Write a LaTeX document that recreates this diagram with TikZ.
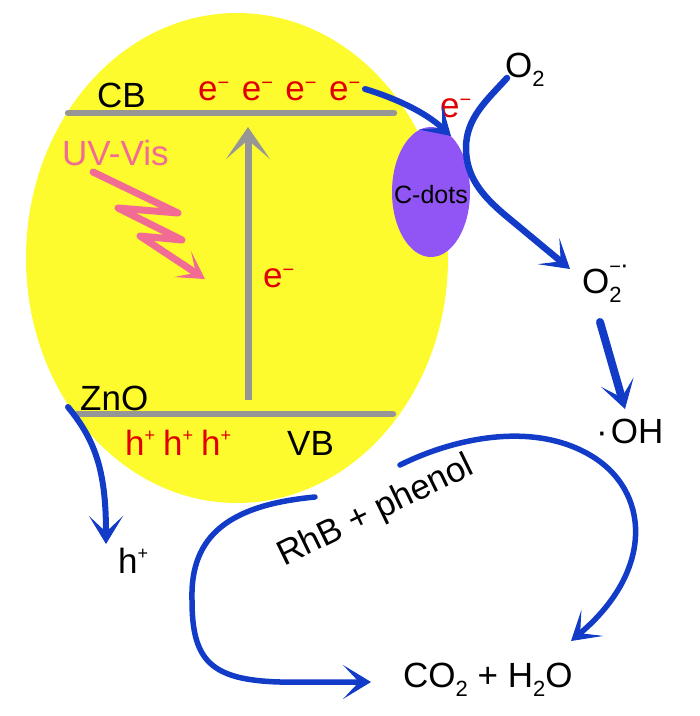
\documentclass[tikz,border=0pt]{standalone}
\usepackage{fontspec}
\setmainfont{Liberation Sans}
\usetikzlibrary{arrows.meta}
\definecolor{yel}{RGB}{253,251,45}
\definecolor{purp}{RGB}{145,85,245}
\definecolor{blueC}{RGB}{18,60,200}
\definecolor{pinkC}{RGB}{242,107,148}
\definecolor{redC}{RGB}{225,0,0}
\definecolor{greyC}{RGB}{150,150,150}
\newcommand\myminus{\raisebox{11pt}{\fontsize{20}{20}\selectfont −}}
\newcommand\myplus{\raisebox{14pt}{\fontsize{18}{18}\selectfont +}}
\newcommand\mysub[1]{\raisebox{-9pt}{\fontsize{22}{22}\selectfont #1}}
\begin{document}
\begin{tikzpicture}[x=1pt,y=-1pt,
  lbl/.style={font=\fontsize{35}{40}\selectfont, inner sep=0pt, anchor=base west},
  greyline/.style={draw=greyC, line width=6.5pt, line cap=round},
  barrow/.style={draw=blueC, line width=6pt, line cap=round,
    -{Stealth[length=28pt,width=34pt,inset=16pt,line width=1pt]}},
  parrow/.style={draw=pinkC, line width=7pt, line cap=round, line join=round,
    -{Stealth[length=27pt,width=31pt,inset=16pt,line width=1pt]}},
  garrow/.style={draw=greyC, line width=7pt,
    -{Stealth[length=32pt,width=44pt,inset=19pt,line width=1pt]}}]
\useasboundingbox (0,0) rectangle (700,716);
% ZnO particle
\fill[yel] (237,258) ellipse [x radius=211, y radius=245];
\coordinate (particle) at (237,258);
% C-dots
\fill[purp] (431,192) ellipse [x radius=39, y radius=65];
\node[font=\fontsize{25}{27}\selectfont, inner sep=0pt] (cdots) at (431,195) {C-dots};
% band lines
\coordinate (cbL) at (68,113);
\coordinate (cbR) at (394,113);
\coordinate (vbL) at (77,414);
\coordinate (vbR) at (393,414);
\draw[greyline] (cbL) -- (cbR);
\draw[greyline] (vbL) -- (vbR);
% excitation arrow
\coordinate (exB) at (248,400);
\coordinate (exT) at (248,127);
\draw[garrow] (exB) -- (exT);
% labels
\node[lbl] (cb) at (97,107) {CB};
\node[lbl, text=redC] (ecb) at (198,100) {e\myminus\hspace{12.5pt}e\myminus\hspace{12.5pt}e\myminus\hspace{12.5pt}e\myminus};
\node[lbl, text=pinkC] (uv) at (62,165) {UV-Vis};
\node[lbl, text=redC] (emid) at (263,287) {e\myminus};
\node[lbl] (zno) at (80,410) {ZnO};
\node[lbl, text=redC] (hhh) at (125,455) {h\myplus\hspace{8pt}h\myplus\hspace{8pt}h\myplus};
\node[lbl] (vb) at (287,455) {VB};
\node[lbl] (hplus) at (118,573) {h\myplus};
\node[lbl, text=redC] (ec) at (440,117) {e\myminus};
\node[lbl] (o2) at (505,77) {O\mysub{2}};
\node[lbl] (o2m) at (582,293) {O\rlap{\raisebox{20pt}{\fontsize{20}{20}\selectfont −\kern-1pt{\fontsize{26}{26}\selectfont ·}}}\mysub{2}};
\node[lbl] (oh) at (596,443) {·\kern3pt OH};
\node[lbl] (co2) at (403,687) {CO\mysub{2} + H\mysub{2}O};
\node[font=\fontsize{35}{40}\selectfont, inner sep=0pt, rotate=26] (rhb) at (376,512) {RhB + phenol};
% light
\coordinate (l0) at (93,172);
\coordinate (l1) at (178,213);
\coordinate (l2) at (118,208);
\coordinate (l3) at (182,240);
\coordinate (l4) at (140,236);
\coordinate (l5) at (205,279);
\draw[parrow] (l0) -- (l1) -- (l2) -- (l3) -- (l4) -- (l5);
% electron transfer to C-dots
\coordinate (a1) at (365,89);
\coordinate (a2) at (451,136);
\draw[barrow] (a1) .. controls (395,98) and (425,112) .. (a2);
% O2 -> O2-
\coordinate (b1) at (507,78);
\coordinate (b2) at (466,148);
\coordinate (b3) at (505,215);
\coordinate (b4) at (570,269);
\draw[barrow, line width=6.5pt] (b1) .. controls (487,100) and (466,118) .. (b2)
  .. controls (466,175) and (480,194) .. (b3) -- (b4);
% O2- -> OH
\coordinate (c1) at (600,322);
\coordinate (c2) at (625,409);
\draw[barrow, line width=8pt] (c1) -- (c2);
% right loop
\coordinate (d1) at (400,465);
\coordinate (d2) at (590,455);
\coordinate (d3) at (571,641);
\draw[barrow, line width=5.5pt] (d1) .. controls (450,440) and (530,420) .. (d2)
  .. controls (650,490) and (655,570) .. (d3);
% left loop
\coordinate (e1) at (315,497);
\coordinate (e2) at (192,600);
\coordinate (e3) at (280,682);
\coordinate (e4) at (371,682);
\draw[barrow, line width=5.5pt] (e1) .. controls (230,505) and (190,535) .. (e2)
  .. controls (192,660) and (210,680) .. (e3) -- (e4);
% holes
\coordinate (f1) at (68,407);
\coordinate (f2) at (106,544);
\draw[barrow] (f1) .. controls (95,440) and (106,470) .. (f2);
\end{tikzpicture}
\end{document}
